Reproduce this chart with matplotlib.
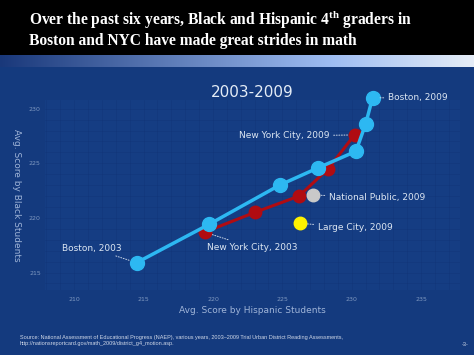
import matplotlib.pyplot as plt
import numpy as np

plt.rcParams['mathtext.fontset'] = 'custom'
plt.rcParams['mathtext.rm'] = 'Liberation Serif:bold'
plt.rcParams['mathtext.bf'] = 'Liberation Serif:bold'

# average scores (x = Hispanic students, y = Black students)
boston_hisp = [214.5, 219.7, 224.8, 227.6, 230.3, 231.0, 231.5]
boston_black = [215.9, 219.4, 223.0, 224.6, 226.1, 228.6, 231.0]
nyc_hisp = [219.4, 223.0, 226.2, 228.3, 230.2]
nyc_black = [218.7, 220.5, 222.0, 224.5, 227.6]
natpub_hisp, natpub_black = 227.2, 222.1
large_hisp, large_black = 226.3, 219.5

x_ticks = [210, 215, 220, 225, 230, 235]
y_ticks = [215, 220, 225, 230]

bg = '#143a7e'
light_blue = '#2db8f2'
dark_red = '#b00c12'
label_col = '#dce6f2'
tick_col = '#7f98c0'

fig = plt.figure(figsize=(4.74, 3.55), dpi=100)
fig.patch.set_facecolor(bg)

# black header
hdr = fig.add_axes([0, 1 - 55 / 355, 1, 55 / 355])
hdr.set_facecolor('black')
hdr.set_xticks([])
hdr.set_yticks([])
for s in hdr.spines.values():
    s.set_visible(False)
fig.text(29 / 474, 1 - 20 / 355,
         'Over the past six years, Black and Hispanic 4$^{\\rm th}$ graders in',
         color='white', fontsize=11.2, fontfamily='Liberation Serif',
         fontweight='bold', va='center')
fig.text(29 / 474, 1 - 41 / 355,
         'Boston and NYC have made great strides in math',
         color='white', fontsize=11.2, fontfamily='Liberation Serif',
         fontweight='bold', va='center')

# gradient band under the header
band = fig.add_axes([0, 1 - 67 / 355, 1, 12 / 355])
c0 = np.array([0.10, 0.22, 0.48])
c1 = np.array([0.62, 0.74, 0.95])
c2 = np.array([0.90, 0.93, 0.97])
t = np.linspace(0, 1, 300)
grad = np.where(t[:, None] < 0.7,
                c0 + (c1 - c0) * (t[:, None] / 0.7),
                c1 + (c2 - c1) * ((t[:, None] - 0.7) / 0.3))
band.imshow(grad[None, :, :], aspect='auto', extent=[0, 1, 0, 1])
band.axis('off')

# main chart
ax = fig.add_axes([45 / 474, 65 / 355, 415 / 474, 190 / 355])
ax.set_facecolor('#153d83')
ax.set_xlim(207.9, 237.8)
ax.set_ylim(213.4, 230.8)
for s in ax.spines.values():
    s.set_visible(False)
ax.set_xticks(x_ticks)
ax.set_yticks(y_ticks)
ax.set_xticks(np.arange(208, 238, 1), minor=True)
ax.set_yticks(np.arange(214, 231, 1), minor=True)
ax.tick_params(which='both', length=0, colors=tick_col, labelsize=4.5)
ax.tick_params(axis='x', pad=5)
ax.tick_params(axis='y', pad=3)
ax.grid(True, which='both', color='#0f3070', lw=0.5, alpha=0.35)
ax.set_axisbelow(True)

ax.set_xlabel('Avg. Score by Hispanic Students', color='#9fb4d8',
              fontsize=6.5, labelpad=3)
ax.set_ylabel('Avg. Score by Black Students', color='#9fb4d8',
              fontsize=6.5, rotation=270, labelpad=12)
ax.set_title('2003-2009', color='#e4ecf6', fontsize=11, pad=-1)

ax.plot(nyc_hisp, nyc_black, '-o', color=dark_red, lw=2.2, ms=9, zorder=3,
        clip_on=False)
ax.plot(boston_hisp, boston_black, '-o', color=light_blue, lw=2.5, ms=10,
        zorder=4, clip_on=False)
ax.plot(natpub_hisp, natpub_black, 'o', color='#c9c9c9', ms=9, zorder=5)
ax.plot(large_hisp, large_black, 'o', color='#fff200', ms=9, zorder=5)

lead = dict(arrowstyle='-', linestyle=':', color='#c8d4e6', lw=0.7,
            shrinkA=1, shrinkB=5)
notes = [
    ('Boston, 2009', (boston_hisp[-1], boston_black[-1]), (11, 0), 'left'),
    ('New York City, 2009', (nyc_hisp[-1], nyc_black[-1]), (-18, -0.7), 'right'),
    ('National Public, 2009', (natpub_hisp, natpub_black), (11.5, -1.7), 'left'),
    ('Large City, 2009', (large_hisp, large_black), (12.5, -3), 'left'),
    ('Boston, 2003', (boston_hisp[0], boston_black[0]), (-32, 10.4), 'center'),
    ('New York City, 2003', (nyc_hisp[0], nyc_black[0]), (34, -11), 'center'),
]
for txt, xy, off, ha in notes:
    ax.annotate(txt, xy=xy, xytext=off, textcoords='offset points',
                ha=ha, va='center', color=label_col, fontsize=6.5,
                arrowprops=lead, zorder=6, annotation_clip=False)

# footer
fig.text(20 / 474, 1 - 338 / 355,
         'Source: National Assessment of Educational Progress (NAEP), various years, '
         '2003\u20132009 Trial Urban District Reading Assessments,',
         color='#d0d8e8', fontsize=4, fontfamily='Liberation Sans', va='center')
fig.text(20 / 474, 1 - 344 / 355,
         'http://nationsreportcard.gov/math_2009/district_g4_motion.asp.',
         color='#d0d8e8', fontsize=4, fontfamily='Liberation Sans', va='center')
fig.text(465 / 474, 1 - 344 / 355, '-3-', color='#d0d8e8', fontsize=4,
         fontfamily='Liberation Sans', va='center', ha='center')

plt.savefig('out.png', dpi=100, facecolor=fig.get_facecolor())
